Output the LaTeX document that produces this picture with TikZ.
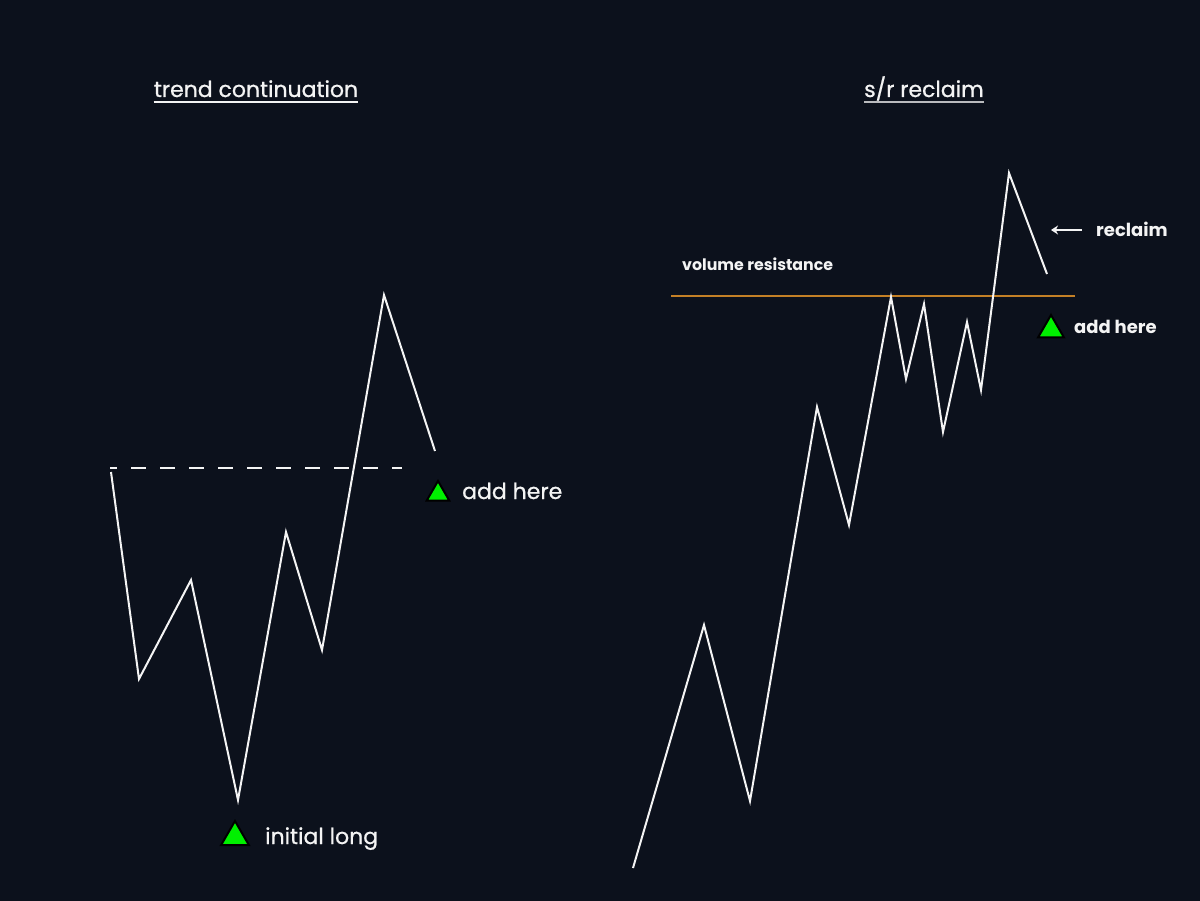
\documentclass[tikz,border=0pt]{standalone}
\usepackage{fontspec}
\setmainfont{Poppins}
\newfontfamily\medfont{Poppins}[FakeBold=0.8]
\usetikzlibrary{arrows.meta,shapes.geometric}
\definecolor{BgNavy}{HTML}{0C111C}
\definecolor{ResOrange}{RGB}{196,128,38}
\definecolor{BuyGreen}{HTML}{00F000}
\definecolor{Chalk}{HTML}{F4F4F4}

\begin{document}
\begin{tikzpicture}[x=1pt, y=-1pt, color=Chalk,
    every node/.append style={inner sep=0pt, text=Chalk},
    price/.style={draw=Chalk, line width=2pt, line join=miter},
    buy/.style={regular polygon, regular polygon sides=3, fill=BuyGreen,
                draw=black, line width=2pt},
    title/.style={anchor=base, font=\medfont\fontsize{22}{24}\selectfont},
    note/.style={anchor=base west, font=\medfont\fontsize{22}{24}\selectfont},
    tag/.style={anchor=base west, font=\bfseries\fontsize{18}{20}\selectfont}]
  \fill[BgNavy] (0,0) rectangle (1200,901);
  \useasboundingbox (0,0) rectangle (1200,901);

  % titles
  \node (trendTitle) [title] at (256,97) {trend continuation};
  \node (srTitle) [title] at (924,97) {s/r reclaim};
  \draw[line width=1.3pt] ([yshift=-5pt]trendTitle.base west) -- ([yshift=-5pt]trendTitle.base east);
  \draw[line width=1.3pt, Chalk!75!BgNavy] ([yshift=-5pt]srTitle.base west) -- ([yshift=-5pt]srTitle.base east);

  % left: trend continuation
  \foreach \px/\py [count=\i from 0] in {111/472, 139/679, 191/580, 238/800,
      286/532, 322/650, 384/295, 435/451}
    \coordinate (L\i) at (\px,\py);
  \coordinate (dashA) at (110,468);
  \coordinate (dashB) at (402,468);
  \draw[line width=1.6pt, dash pattern=on 15pt off 14pt, dash phase=8pt] (dashA) -- (dashB);
  \draw[price] (L0) \foreach \i in {1,...,7} {-- (L\i)};

  \node (buyAdd) [buy, minimum size=26pt] at (438,494) {};
  \node (addLeft) [note] at (462,499) {add here};
  \node (buyInit) [buy, minimum size=32pt] at (235,837) {};
  \node (initLong) [note] at (265,844) {initial long};

  % right: s/r reclaim
  \foreach \px/\py [count=\i from 0] in {633/868, 704/625, 750/801, 817/407,
      849/525, 891/297, 906/379, 924/304, 943/432, 967/322, 981/390,
      1009/173, 1047/274}
    \coordinate (R\i) at (\px,\py);
  \coordinate (resA) at (671,296);
  \coordinate (resB) at (1075,296);
  \draw[ResOrange, line width=1.6pt] (resA) -- (resB);
  \draw[price] (R0) \foreach \i in {1,...,12} {-- (R\i)};

  \node (volRes) [tag, font=\bfseries\fontsize{15.8}{18}\selectfont] at (682,271) {volume resistance};
  \node (reclaim) [tag] at (1096,237) {reclaim};
  \coordinate (reclaimTip) at (1051,230);
  \draw[line width=2pt, -{Stealth[length=7pt,width=9pt]}] ([xshift=-14pt]reclaim.west |- reclaimTip) -- (reclaimTip);
  \node (buyRight) [buy, minimum size=30pt] at (1051,330) {};
  \node (addRight) [tag] at (1074,334) {add here};
\end{tikzpicture}
\end{document}
